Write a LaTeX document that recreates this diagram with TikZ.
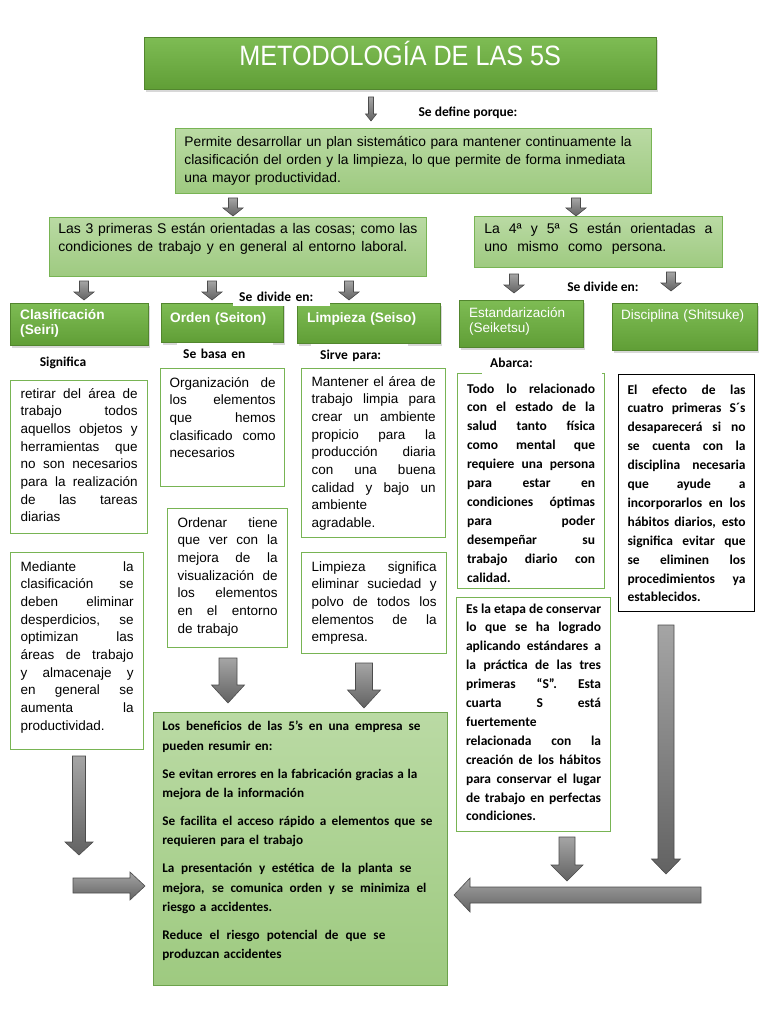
\documentclass[tikz,border=0pt]{standalone}
\usepackage{xcolor}
\usepackage{fontspec}
\usepackage{tikz}
\usetikzlibrary{shadows}
\setmainfont{Liberation Sans}
\newfontfamily\calfont{Carlito}
\newfontfamily\titlefont[FakeStretch=0.9]{Liberation Sans}
\definecolor{verdeA}{RGB}{126,188,84}
\definecolor{verdeB}{RGB}{96,158,54}
\definecolor{verdeC}{RGB}{186,218,164}
\definecolor{verdeD}{RGB}{158,202,128}
\definecolor{verdeL}{RGB}{120,180,84}
\definecolor{grisA}{RGB}{165,165,165}
\definecolor{grisB}{RGB}{98,98,98}
\newcommand{\jl}[2][\linewidth]{\makebox[#1][s]{\spaceskip=0pt\xspaceskip=0pt #2}\\}

\begin{document}
\begin{tikzpicture}[x=1pt,y=-1pt,
		verde/.style={draw=verdeB!85!black,line width=.4pt,top color=verdeA,bottom color=verdeB,text=white,
			drop shadow={shadow xshift=2pt,shadow yshift=-3pt,opacity=.3}},
		claro/.style={draw=verdeL,line width=.8pt,top color=verdeC,bottom color=verdeD},
		caja/.style={draw=verdeL,line width=1.1pt,fill=white},
		bloque/.style={anchor=north west,inner ysep=0pt,align=left},
		arial/.style={font=\fontsize{13.5}{17.7}\selectfont},
		cal/.style={font=\calfont\bfseries\fontsize{13.5}{18.9}\selectfont},
		cabeza/.style={font=\bfseries\fontsize{13.7}{15}\selectfont},
		etiqueta/.style={font=\calfont\bfseries\fontsize{13.5}{15}\selectfont,fill=white,inner xsep=6pt,inner ysep=3pt},
		flecha/.style={draw=black!70,line width=.6pt,top color=grisA,bottom color=grisB}]
		\fill[white] (0,0) rectangle (768,1024);
		\useasboundingbox (0,0) rectangle (768,1024);
		
		\node[verde,bloque,align=center,inner xsep=0pt,minimum width=512pt,text height=28pt,text depth=24pt,
			font=\titlefont\fontsize{28}{30}\selectfont] (titulo) at (144,37) {METODOLOGÍA DE LAS 5S};
		
		\node[claro,bloque,inner xsep=9pt,text width=458pt,text height=18pt,text depth=47pt,
			font=\fontsize{13.8}{18}\selectfont] (define) at (175,128)
			{Permite desarrollar un plan sistemático para mantener continuamente la\\
			clasificación del orden y la limpieza, lo que permite de forma inmediata\\
			una mayor productividad.};
		\node[claro,bloque,inner xsep=9pt,text width=359pt,text height=16.5pt,text depth=42.5pt,
			font=\fontsize{14}{17.5}\selectfont] (cosas) at (49,217)
			{\jl{Las 3 primeras S están orientadas a las cosas; como las}\makebox[349pt][s]{\spaceskip=0pt condiciones de trabajo y en general al entorno laboral.}};
		\node[claro,bloque,inner xsep=10pt,text width=228pt,text height=17.5pt,text depth=33.5pt,
			font=\fontsize{14}{18}\selectfont] (persona) at (474,216)
			{\jl{La 4ª y 5ª S están orientadas a}\makebox[182pt][s]{\spaceskip=0pt uno mismo como persona.}};
		
		\node[verde,bloque,cabeza,inner xsep=10pt,text width=118pt,text height=16.5pt,text depth=25.5pt] (seiri) at (10,303) {Clasificación\\(Seiri)};
		\node[verde,bloque,cabeza,inner xsep=9pt,text width=104pt,text height=19.5pt,text depth=19.5pt] (seiton) at (161,303) {Orden (Seiton)};
		\node[verde,bloque,cabeza,inner xsep=10pt,text width=123pt,text height=19.5pt,text depth=20.5pt] (seiso) at (297,303) {Limpieza (Seiso)};
		\node[verde,bloque,inner xsep=10pt,text width=104pt,text height=17.5pt,text depth=29.5pt,
			font=\fontsize{13.5}{15}\selectfont] (seiketsu) at (459,300) {Estandarización\\(Seiketsu)};
		\node[verde,bloque,inner xsep=9pt,text width=127pt,text height=16.5pt,text depth=30.5pt,
			font=\fontsize{13.5}{15}\selectfont] (shitsuke) at (612,303) {Disciplina (Shitsuke)};
		
		\node[caja,bloque,arial,inner xsep=10pt,text width=117pt,text height=17.5pt,text depth=135.5pt] (retirar) at (10,380)
			{\jl{retirar del área de}\jl{trabajo todos}\jl{aquellos objetos y}\jl{herramientas que}\jl{no son necesarios}\jl{para la realización}\jl{de las tareas}diarias};
		\node[caja,bloque,arial,inner xsep=10pt,text width=113pt,text height=18.5pt,text depth=178.5pt] (mediante) at (10,552)
			{\jl{Mediante la}\jl{clasificación se}\jl{deben eliminar}\jl{desperdicios, se}\jl{optimizan las}\jl{áreas de trabajo}\jl{y almacenaje y}\jl{en general se}\jl{aumenta la}productividad.};
		\node[caja,bloque,arial,inner xsep=9pt,text width=106pt,text height=18.5pt,text depth=99.5pt] (organizacion) at (160,368)
			{\jl{Organización de}\jl{los elementos}\jl{que hemos}\jl{clasificado como}necesarios};
		\node[caja,bloque,arial,inner xsep=10pt,text width=100pt,text height=18.5pt,text depth=120.5pt] (ordenar) at (167,508)
			{\jl{Ordenar tiene}\jl{que ver con la}\jl{mejora de la}\jl{visualización de}\jl{los elementos}\jl{en el entorno}de trabajo};
		\node[caja,bloque,arial,inner xsep=10pt,text width=124pt,text height=17.5pt,text depth=151.5pt] (mantener) at (301,368)
			{\jl{Mantener el área de}\jl{trabajo limpia para}\jl{crear un ambiente}\jl{propicio para la}\jl{producción diaria}\jl{con una buena}\jl{calidad y bajo un}ambiente\\agradable.};
		\node[caja,bloque,arial,inner xsep=10pt,text width=125pt,text height=18.5pt,text depth=82.5pt] (limpiar) at (301,552)
			{\jl{Limpieza significa}\jl{eliminar suciedad y}\jl{polvo de todos los}\jl{elementos de la}empresa.};
		\node[caja,bloque,cal,inner xsep=9.5pt,text width=128pt,text height=19.5pt,text depth=195.5pt] (salud) at (457,373)
			{\jl{Todo lo relacionado}\jl{con el estado de la}\jl{salud tanto física}\jl{como mental que}\jl{requiere una persona}\jl{para estar en}\jl{condiciones óptimas}\jl{para poder}\jl{desempeñar su}\jl{trabajo diario con}calidad.};
		\node[caja,bloque,cal,inner xsep=9.5pt,text width=135pt,text height=15.5pt,text depth=218.5pt] (etapa) at (456,597)
			{\jl{Es la etapa de conservar}\jl{lo que se ha logrado}\jl{aplicando estándares a}\jl{la práctica de las tres}\jl{primeras “S”. Esta}\jl{cuarta S está}fuertemente\\\jl{relacionada con la}\jl{creación de los hábitos}\jl{para conservar el lugar}\jl{de trabajo en perfectas}condiciones.};
		\node[caja,draw=black,bloque,cal,inner xsep=9pt,text width=118pt,text height=19.5pt,text depth=217.5pt] (efecto) at (618,374)
			{\jl{El efecto de las}\jl{cuatro primeras S´s}\jl{desaparecerá si no}\jl{se cuenta con la}\jl{disciplina necesaria}\jl{que ayude a}\jl{incorporarlos en los}\jl{hábitos diarios, esto}\jl{significa evitar que}\jl{se eliminen los}\jl{procedimientos ya}establecidos.};
		
		\node[claro,draw=verdeL!90!black,bloque,inner xsep=9pt,text width=276pt,text height=18.5pt,text depth=254.5pt,
			font=\calfont\bfseries\fontsize{13.2}{19.3}\selectfont] (beneficios) at (153,712)
			{\jl[258pt]{Los beneficios de las 5’s en una empresa se}pueden resumir en:\\[8.7pt]
			\jl[255pt]{Se evitan errores en la fabricación gracias a la}mejora de la información\\[8.7pt]
			\jl[270pt]{Se facilita el acceso rápido a elementos que se}requieren para el trabajo\\[8.7pt]
			\jl[249pt]{La presentación y estética de la planta se}\jl[264pt]{mejora, se comunica orden y se minimiza el}riesgo a accidentes.\\[8.7pt]
			\jl[223pt]{Reduce el riesgo potencial de que se}produzcan accidentes};
		
		\node[etiqueta] (porque) at (468,113) {Se define porque:};
		\node[etiqueta,bloque,text width=85pt,minimum height=19pt] (divide1) at (233,287) {Se divide en:};
		\node[etiqueta] (divide2) at (603,287) {Se divide en:};
		\node[etiqueta] (significa) at (63,363) {Significa};
		\node[etiqueta,bloque,text width=84pt,minimum height=22pt] (basa) at (177,343) {Se basa en};
		\node[etiqueta,bloque,inner xsep=9pt,text width=79pt,minimum height=24pt] (sirve) at (311,344) {Sirve para:};
		\node[etiqueta,bloque,inner xsep=8pt,text width=104pt,minimum height=22pt] (abarca) at (482,352) {Abarca:};
		
		\foreach \x/\a/\b/\s/\h/\l in {
			371/97/121/2.5/5.5/7,
			233/198/216/4.5/10/8, 576/198/216/4.5/10/8,
			84/281/300/4.5/10/8, 212/281/300/4.5/10/8, 349/281/300/4.5/10/8,
			514/274/293/4.5/10/8, 671/272/291/4.5/10/8,
			228/658/703/9/16.5/18, 364/663/708/8.5/16.5/18,
			79/756/855/6.5/14/13, 567/837/881/8/16/16, 666/625/874/8/14.5/15}
		\draw[flecha] (\x-\s,\a) -- (\x+\s,\a) -- (\x+\s,\b-\l) -- (\x+\h,\b-\l) -- (\x,\b)
			-- (\x-\h,\b-\l) -- (\x-\s,\b-\l) -- cycle;
		\draw[flecha] (73,878) -- (130,878) -- (130,872) -- (145,886) -- (130,900) -- (130,893) -- (73,893) -- cycle;
		\draw[flecha] (701,887) -- (470,887) -- (470,878) -- (454,895) -- (470,912) -- (470,903) -- (701,903) -- cycle;
	\end{tikzpicture}
\end{document}
